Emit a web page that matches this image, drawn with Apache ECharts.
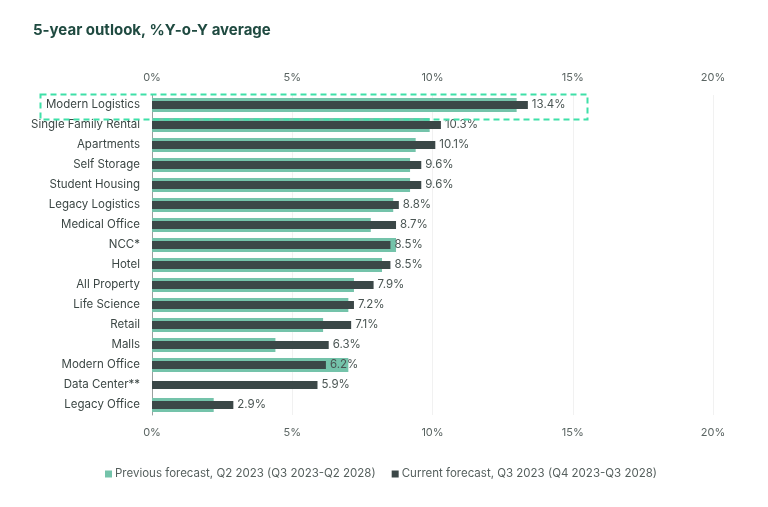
<!DOCTYPE html>
<html>
<head>
<meta charset="utf-8">
<script src="https://cdn.jsdelivr.net/npm/echarts@6/dist/echarts.min.js"></script>
<style>
html,body{margin:0;padding:0;background:#fff;}
#chart{width:768px;height:507px;}
</style>
</head>
<body>
<div id="chart"></div>
<script>
const categories = ["Modern Logistics","Single Family Rental","Apartments","Self Storage","Student Housing","Legacy Logistics","Medical Office","NCC*","Hotel","All Property","Life Science","Retail","Malls","Modern Office","Data Center**","Legacy Office"];
const previousForecast = [13.0, 9.9, 9.4, 9.2, 9.2, 8.6, 7.8, 8.7, 8.2, 7.2, 7.0, 6.1, 4.4, 7.0, null, 2.2];
const currentForecast = [13.4, 10.3, 10.1, 9.6, 9.6, 8.8, 8.7, 8.5, 8.5, 7.9, 7.2, 7.1, 6.3, 6.2, 5.9, 2.9];
const xTicks = [0, 5, 10, 15, 20];
const seriesNames = ["Previous forecast, Q2 2023 (Q3 2023-Q2 2028)", "Current forecast, Q3 2023 (Q4 2023-Q3 2028)"];

const FONT = "Inter, 'Noto Sans', sans-serif";
const chart = echarts.init(document.getElementById('chart'));
const xAxisCommon = {
  type: 'value', min: xTicks[0], max: xTicks[xTicks.length-1], interval: 5,
  axisLine: {show: false}, axisTick: {show: false},
  axisLabel: {formatter: '{value}%', color: '#5a6462', fontSize: 11, fontFamily: FONT, margin: 12},
};
const yAxisCommon = {
  type: 'category', data: categories, inverse: true, axisTick: {show: false}
};
chart.setOption({
  animation: false,
  title: {
    text: '5-year outlook, %Y-o-Y average', left: 28, top: 18,
    textStyle: {fontSize: 15, fontWeight: 'bold', color: '#1f4a40', fontFamily: FONT}
  },
  grid: {left: 152, right: 55, top: 95, bottom: 92},
  xAxis: [
    Object.assign({}, xAxisCommon, {position: 'top', splitLine: {show: true, lineStyle: {color: '#f1f1f1'}}}),
    Object.assign({}, xAxisCommon, {position: 'bottom', splitLine: {show: false}})
  ],
  yAxis: [
    Object.assign({}, yAxisCommon, {
      axisLine: {show: true, lineStyle: {color: '#9aa09f', width: 1}},
      axisLabel: {color: '#3c4745', fontSize: 11.5, fontFamily: FONT, margin: 12}
    }),
    Object.assign({}, yAxisCommon, {
      position: 'left', show: false
    })
  ],
  legend: {
    bottom: 22, left: 100, itemWidth: 7, itemHeight: 7, itemGap: 16,
    icon: 'rect',
    textStyle: {color: '#555f5d', fontSize: 11.5, fontFamily: FONT, padding: [0,0,0,-2]},
    data: seriesNames
  },
  series: [
    {
      name: seriesNames[0], type: 'bar', data: previousForecast,
      barWidth: 14, xAxisIndex: 0, yAxisIndex: 0,
      itemStyle: {color: '#74c3aa'}
    },
    {
      name: seriesNames[1], type: 'bar', data: currentForecast,
      barWidth: 8, xAxisIndex: 0, yAxisIndex: 1,
      itemStyle: {color: '#3b4747'},
      label: {
        show: true, position: 'right', distance: 4,
        formatter: p => p.value.toFixed(1) + '%',
        color: '#4a5553', fontSize: 11.5, fontFamily: FONT
      }
    }
  ],
  graphic: [{
    type: 'rect', left: 38, top: 92, z: 100,
    shape: {width: 547, height: 25},
    style: {fill: 'none', stroke: '#3fe0a8', lineWidth: 2, lineDash: [6, 4]}
  }]
});
</script>
</body>
</html>
